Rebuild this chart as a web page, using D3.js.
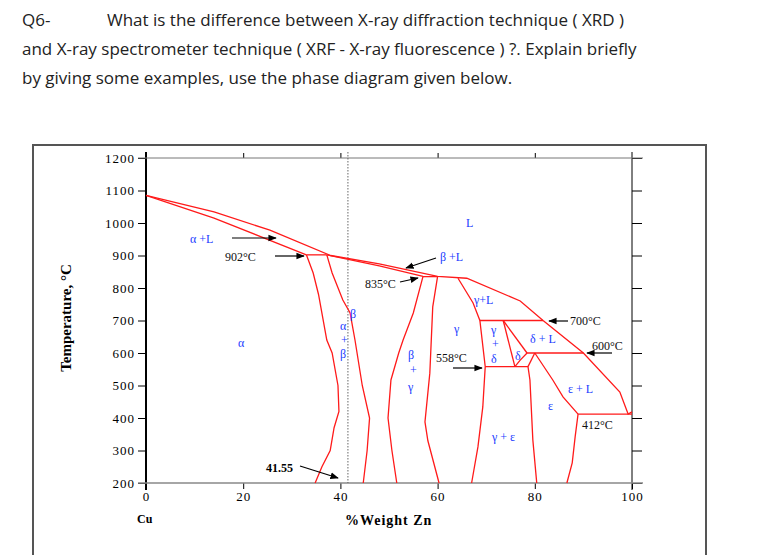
<!DOCTYPE html>
<html><head><meta charset="utf-8">
<script src="https://cdn.jsdelivr.net/npm/d3@7"></script>
<style>body{margin:0;background:#fff}</style>
</head><body>
<script>
var question = [
  {x: 22, y: 26, t: "Q6-"},
  {x: 107, y: 26, t: "What is the difference between X-ray diffraction technique ( XRD )"},
  {x: 22, y: 55, t: "and X-ray  spectrometer technique ( XRF - X-ray fluorescence ) ?. Explain briefly"},
  {x: 22, y: 84, t: "by giving some examples, use the phase diagram given below."}
];

var xTicks = [0, 20, 40, 60, 80, 100];
var yTicks = [200, 300, 400, 500, 600, 700, 800, 900, 1000, 1100, 1200];

// phase boundaries [wt% Zn, T]
var liquidus = [[0,1085],[14,1034],[25.5,978],[38,900],[48,874],[60,836],[66,830],[77,760],[81.7,700],[90,600],[97.5,480],[99.2,412],[100,419]];
var alphaSolidus = [[0,1085],[14,1015],[33,902]];
var betaSolidus = [[37.2,902],[48,868],[57,836]];
var alphaSolvus = [[33,902],[34.4,846],[35.5,780],[37.2,640],[38.3,600],[39.5,500],[39.7,420],[38.7,370],[37.9,300],[36.2,250],[34.8,200]];
var betaLeft = [[37.2,902],[38.3,846],[40.5,763],[42,723],[43,640],[44.5,500],[46,400],[45.5,300],[44.7,200]];
var betaRight = [[57,836],[55,723],[52.9,640],[52,600],[50.4,517],[49.8,400],[50.6,300],[51.6,200]];
var gammaLeft = [[60,836],[59,742],[58.4,538],[57.4,388],[58,330],[60.3,200]];
var gammaRight = [[64.2,830],[67.3,754],[68.7,700],[69.8,558],[69.3,434],[68.3,311],[67,200]];
var deltaLeft = [[73.5,700],[75.9,558]];
var deltaRight = [[73.5,700],[78.4,600]];
var deltaBottom = [[75.9,558],[77,578],[78.4,600]];
var epsPeak = [[78.6,558],[80,600]];
var epsLeft = [[78.6,558],[79,517],[79.6,332],[80.4,200]];
var epsRight = [[80,600],[83.7,517],[85.8,465],[88.9,412]];
var etaLeft = [[88.9,412],[88.3,342],[87.7,262],[86.6,200]];
var isotherms = [[[33,902],[37.2,902]],[[57,835],[60,835]],[[68.7,700],[81.7,700]],[[69.8,558],[78.6,558]],[[78.4,600],[90,600]],[[88.9,412],[100,412]]];

var blueLabels = [
  {x: 190, y: 243, t: "α  +L"}, {x: 440, y: 261, t: "β  +L"}, {x: 466, y: 227, t: "L"},
  {x: 474, y: 304, t: "γ+L"}, {x: 350, y: 318, t: "β"}, {x: 238, y: 347, t: "α"},
  {x: 454, y: 333, t: "γ"}, {x: 530, y: 343, t: "δ + L"}, {x: 515, y: 360, t: "δ"},
  {x: 568, y: 393, t: "ε + L"}, {x: 548, y: 410, t: "ε"}, {x: 492, y: 441, t: "γ  +  ε"},
  {x: 408, y: 359, t: "β"}, {x: 410, y: 374, t: "+"}, {x: 408, y: 391, t: "γ"},
  {x: 491, y: 334, t: "γ"}, {x: 492, y: 348, t: "+"}, {x: 491, y: 363, t: "δ"},
  {x: 340, y: 330, t: "α"}, {x: 341, y: 344, t: "+"}, {x: 340, y: 358, t: "β"}
];
var blackLabels = [
  {x: 225, y: 261, t: "902°C"}, {x: 365, y: 288, t: "835°C"}, {x: 436, y: 362, t: "558°C"},
  {x: 570, y: 325, t: "700°C"}, {x: 592, y: 350, t: "600°C"}, {x: 582, y: 429, t: "412°C"}
];
var arrows = [[232,238,276,238],[275,256,304,256],[400,282,418,278],[436,258,406,268],[453,368,482,368],[568,321,549,321],[612,353,587,353],[300,466,338,478]];

var svg = d3.select("body").append("svg").attr("width", 761).attr("height", 555);

svg.selectAll("text.q").data(question).enter().append("text")
  .attr("x", d => d.x).attr("y", d => d.y).text(d => d.t)
  .style("font-family", "Open Sans").style("font-size", "17px").attr("fill", "#222");

svg.append("path").attr("d", "M33,555V145H706V555").attr("fill", "none").attr("stroke", "#555").attr("stroke-width", 2);

var x = d3.scaleLinear().domain([0, 100]).range([146, 632]);
var y = d3.scaleLinear().domain([200, 1200]).range([483, 158]);

var serif = "Liberation Serif";
var g = svg.append("g");
// left axis
g.append("g").attr("transform", "translate(146,0)")
  .call(d3.axisLeft(y).tickValues(yTicks).tickSize(8).tickFormat(d3.format("d")))
  .call(s => s.select(".domain").remove())
  .call(s => s.selectAll("text").style("font-family", serif).style("font-size", "13px").style("letter-spacing", "1px"));
g.append("line").attr("x1", 146).attr("x2", 146).attr("y1", 152).attr("y2", 490).attr("stroke", "#000").attr("stroke-width", 2);
// right axis
g.append("g").attr("transform", "translate(632,0)")
  .call(d3.axisRight(y).tickValues(yTicks).tickSize(10).tickFormat(""))
  .call(s => s.select(".domain").remove());
g.append("line").attr("x1", 632).attr("x2", 632).attr("y1", 152).attr("y2", 490).attr("stroke", "#000");
// bottom axis
g.append("g").attr("transform", "translate(0,483)")
  .call(d3.axisBottom(x).tickValues(xTicks).tickSize(6).tickFormat(d3.format("d")))
  .call(s => s.select(".domain").remove())
  .call(s => s.selectAll("text").style("font-family", serif).style("font-size", "13px").style("letter-spacing", "1px"));
g.append("line").attr("x1", 138).attr("x2", 643).attr("y1", 483).attr("y2", 483).attr("stroke", "#888").attr("stroke-width", 1.5);
// top axis
g.append("g").attr("transform", "translate(0,158)")
  .call(d3.axisTop(x).tickValues([20, 40, 60, 80]).tickSize(5).tickFormat(""))
  .call(s => s.select(".domain").remove());
g.append("line").attr("x1", 138).attr("x2", 643).attr("y1", 158).attr("y2", 158).attr("stroke", "#777");

// dotted composition line
g.append("line").attr("x1", x(41.55)).attr("x2", x(41.55)).attr("y1", 152).attr("y2", 483)
  .attr("stroke", "#666").attr("stroke-dasharray", "1.5,1.5");

var line = d3.line().x(d => x(d[0])).y(d => y(d[1]));
var curves = [liquidus, alphaSolidus, betaSolidus, alphaSolvus, betaLeft, betaRight, gammaLeft, gammaRight,
  deltaLeft, deltaRight, deltaBottom, epsPeak, epsLeft, epsRight, etaLeft].concat(isotherms);
g.selectAll("path.c").data(curves).enter().append("path")
  .attr("d", line).attr("fill", "none").attr("stroke", "#ff1a1a").attr("stroke-width", 1.3);

svg.append("defs").append("marker").attr("id", "ah").attr("viewBox", "0 0 10 10")
  .attr("refX", 9).attr("refY", 5).attr("markerWidth", 7).attr("markerHeight", 7).attr("orient", "auto")
  .append("path").attr("d", "M0,1L10,5L0,9Z").attr("fill", "#000");
g.selectAll("line.a").data(arrows).enter().append("line")
  .attr("x1", d => d[0]).attr("y1", d => d[1]).attr("x2", d => d[2]).attr("y2", d => d[3])
  .attr("stroke", "#000").attr("stroke-width", 1.2).attr("marker-end", "url(#ah)");

g.selectAll("text.b").data(blueLabels).enter().append("text")
  .attr("x", d => d.x).attr("y", d => d.y).text(d => d.t)
  .style("font-family", serif).style("font-size", "12px").attr("fill", "#1a3cff");
g.selectAll("text.k").data(blackLabels).enter().append("text")
  .attr("x", d => d.x).attr("y", d => d.y).text(d => d.t)
  .style("font-family", serif).style("font-size", "12px").attr("fill", "#111");
g.append("text").attr("x", 266).attr("y", 472).text("41.55")
  .style("font-family", serif).style("font-size", "12px").style("font-weight", "bold");

g.append("text").attr("x", 137).attr("y", 523).text("Cu")
  .style("font-family", serif).style("font-size", "12px").style("font-weight", "bold");
g.append("text").attr("x", 345).attr("y", 525).text("%Weight  Zn")
  .style("font-family", serif).style("font-size", "14px").style("font-weight", "bold").style("letter-spacing", "1px");
g.append("text").attr("transform", "translate(71,318) rotate(-90)").attr("text-anchor", "middle")
  .text("Temperature, °C").style("font-family", serif).style("font-size", "15px").style("font-weight", "bold");
</script>
</body></html>
